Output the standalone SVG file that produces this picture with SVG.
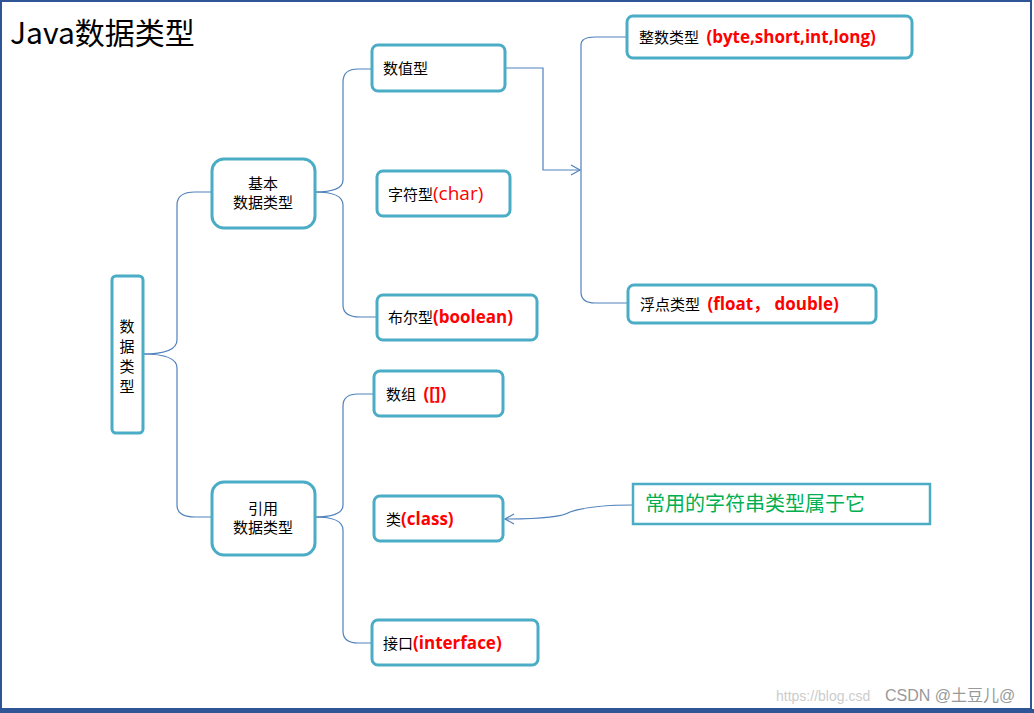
<svg xmlns="http://www.w3.org/2000/svg" width="1034" height="713" viewBox="0 0 1034 713">
<style>
.n{fill:#fff;stroke:#4bacc6;stroke-width:3}
.t{font-family:"Noto Sans CJK SC",sans-serif;font-size:15px;fill:#000}
.r{font-family:"Open Sans","Liberation Sans","Noto Sans CJK SC",sans-serif;font-size:17px;font-weight:bold;fill:#ff0000}
.c{fill:none;stroke:#4f81bd;stroke-width:1.2}
</style>
<defs><marker id="a" markerWidth="12" markerHeight="12" refX="10" refY="6" orient="auto" markerUnits="userSpaceOnUse"><path d="M1,1 L10,6 L1,11" fill="none" stroke="#4f81bd" stroke-width="1.2"/></marker></defs>
<rect x="0" y="0" width="1034" height="713" fill="#fff"/>
<rect x="1" y="1" width="1030" height="708" fill="none" stroke="#2f5597" stroke-width="2"/>
<line x1="0" y1="711" x2="1034" y2="711" stroke="#2f5597" stroke-width="4"/>
<text x="10" y="44" font-family="Noto Sans CJK SC,sans-serif" font-size="30" fill="#000">Java数据类型</text>
<g id="connectors">
<path class="c" d="M143,354 Q177,354 177,340 V205 Q177,192 195,192 H212"/>
<path class="c" d="M143,354 Q177,354 177,368 V505 Q177,517 195,517 H212"/>
<path class="c" d="M315,192 Q343,192 343,180 V82 Q343,69 358,69 H372"/>
<path class="c" d="M315,192 Q343,192 343,205 V305 Q343,317 360,317 H377"/>
<path class="c" d="M315,517 Q343,517 343,505 V406 Q343,394 358,394 H374"/>
<path class="c" d="M315,517 Q343,517 343,530 V631 Q343,643 358,643 H372"/>
<path class="c" d="M505,68 H543 V170 H580" marker-end="url(#a)"/>
<path class="c" d="M627,37 H595 Q581,37 581,45 V292 Q581,303 595,303 H628"/>
<path class="c" d="M633,505 Q590,505 570,512 Q560,519 505,519" marker-end="url(#a)"/>
</g>
<g id="root"><rect class="n" x="112" y="276" width="31" height="157" rx="4"/>
<text class="t" x="127" y="332" text-anchor="middle">数</text><text class="t" x="127" y="352" text-anchor="middle">据</text><text class="t" x="127" y="372" text-anchor="middle">类</text><text class="t" x="127" y="392" text-anchor="middle">型</text></g>
<g id="basic"><rect class="n" x="212" y="159" width="103" height="69" rx="12"/><text class="t" x="263" y="189" text-anchor="middle">基本</text><text class="t" x="263" y="208" text-anchor="middle">数据类型</text></g>
<g id="ref"><rect class="n" x="212" y="482" width="103" height="73" rx="12"/><text class="t" x="263" y="514" text-anchor="middle">引用</text><text class="t" x="263" y="533" text-anchor="middle">数据类型</text></g>
<g id="num"><rect class="n" x="372" y="45" width="133" height="46" rx="6"/><text class="t" x="383" y="74">数值型</text></g>
<g id="char"><rect class="n" x="377" y="171" width="133" height="45" rx="6"/><text class="t" x="388" y="200">字符型<tspan style="font-family:'Open Sans',sans-serif;font-size:19px;fill:#ff0000">(char)</tspan></text></g>
<g id="bool"><rect class="n" x="377" y="295" width="160" height="45" rx="6"/><text class="t" x="388" y="323">布尔型<tspan class="r">(boolean)</tspan></text></g>
<g id="arr"><rect class="n" x="374" y="371" width="129" height="45" rx="6"/><text class="t" x="386" y="400">数组 <tspan class="r" dx="4">([])</tspan></text></g>
<g id="cls"><rect class="n" x="374" y="496" width="129" height="45" rx="6"/><text class="t" x="386" y="525">类<tspan class="r">(class)</tspan></text></g>
<g id="iface"><rect class="n" x="372" y="620" width="166" height="45" rx="6"/><text class="t" x="383" y="649">接口<tspan class="r">(interface)</tspan></text></g>
<g id="int"><rect class="n" x="627" y="16" width="285" height="42" rx="6"/><text class="t" x="639" y="43">整数类型 <tspan class="r" dx="4">(byte,short,int,long)</tspan></text></g>
<g id="float"><rect class="n" x="628" y="285" width="248" height="38" rx="6"/><text class="t" x="640" y="310">浮点类型 <tspan class="r" dx="4">(float， double)</tspan></text></g>
<g id="note"><rect x="633" y="484" width="297" height="40" fill="#fff" stroke="#4bacc6" stroke-width="2.5"/><text x="645" y="511" font-family="Noto Sans CJK SC,sans-serif" font-size="20" fill="#00b050">常用的字符串类型属于它</text></g>
<text x="776" y="701" font-family="Liberation Sans,sans-serif" font-size="14" fill="#ccc">https://blog.csd</text>
<text x="885" y="701" font-family="Liberation Sans,Noto Sans CJK SC,sans-serif" font-size="16" fill="#999">CSDN @土豆儿@</text>
</svg>
